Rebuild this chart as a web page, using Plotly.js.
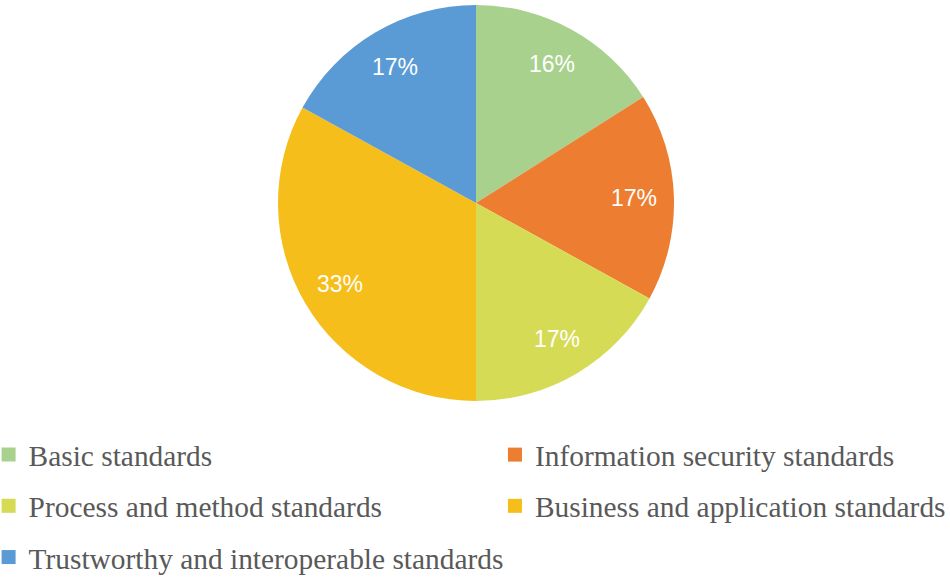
<!DOCTYPE html>
<html>
<head>
<meta charset="utf-8">
<script src="https://cdn.plot.ly/plotly-3.0.1.min.js"></script>
<style>
  html, body { margin: 0; padding: 0; background: #fff; }
  #chart { width: 950px; height: 580px; }
</style>
</head>
<body>
<div id="chart"></div>
<script>
var labels = ['Basic standards', 'Information security standards', 'Process and method standards',
              'Business and application standards', 'Trustworthy and interoperable standards'];
var shares = [16, 17, 17, 33, 17];
var colors = ['#A9D18E', '#ED7D31', '#D6DB55', '#F6BE1A', '#5B9BD5'];
// which legend column each entry sits in (left / right)
var legendCol = ['legend', 'legend2', 'legend', 'legend2', 'legend'];

// pie placement (paper fractions of the 950x580 page)
var W = 950, H = 580;
var cx = 476, cy = 203, R = 198;
var labelRadius = 0.8;

var pie = {
    type: 'pie',
    labels: labels,
    values: shares,
    sort: false,
    direction: 'clockwise',
    rotation: 0,
    marker: { colors: colors, line: { width: 0 } },
    textinfo: 'none',
    hoverinfo: 'label+percent',
    showlegend: false,
    domain: { x: [(cx - R) / W, (cx + R) / W], y: [1 - (cy + R) / H, 1 - (cy - R) / H] }
};

// percent labels sit further out than plotly's own inside text, so place them along each slice's mid-angle
var total = shares.reduce(function (a, b) { return a + b; }, 0);
var cum = 0;
var pctLabels = shares.map(function (v) {
    var mid = (cum + v / 2) / total * 2 * Math.PI;
    cum += v;
    return {
        xref: 'paper', yref: 'paper',
        x: (cx + labelRadius * R * Math.sin(mid)) / W,
        y: 1 - (cy - labelRadius * R * Math.cos(mid)) / H,
        text: Math.round(v / total * 100) + '%',
        showarrow: false,
        xanchor: 'center', yanchor: 'middle',
        font: { family: 'Liberation Sans, Arial, sans-serif', size: 23, color: '#ffffff' }
    };
});

// legend entries drawn as empty square-marker traces, two columns
var keys = labels.map(function (name, i) {
    return {
        type: 'scatter',
        mode: 'markers',
        x: [null],
        y: [null],
        name: name,
        legend: legendCol[i],
        legendgroup: 'g' + i,
        marker: { symbol: 'square', size: 14, color: colors[i], line: { width: 0 } },
        hoverinfo: 'skip'
    };
});

var legendFont = { family: 'Liberation Serif, Times New Roman, serif', size: 29.4, color: '#595959' };

var layout = {
    width: W,
    height: H,
    margin: { l: 0, r: 0, t: 0, b: 0, autoexpand: false },
    paper_bgcolor: '#ffffff',
    plot_bgcolor: '#ffffff',
    xaxis: { visible: false },
    yaxis: { visible: false },
    annotations: pctLabels,
    legend: {
        xref: 'paper', yref: 'container',
        x: -0.012, xanchor: 'left',
        y: 1 - 429 / 580, yanchor: 'top',
        orientation: 'v',
        tracegroupgap: 10,
        font: legendFont,
        bgcolor: 'rgba(0,0,0,0)'
    },
    legend2: {
        xref: 'container', yref: 'container',
        x: 0.521, xanchor: 'left',
        y: 1 - 429 / 580, yanchor: 'top',
        orientation: 'v',
        tracegroupgap: 10,
        font: legendFont,
        bgcolor: 'rgba(0,0,0,0)'
    }
};

Plotly.newPlot('chart', [pie].concat(keys), layout, { displayModeBar: false });
</script>
</body>
</html>
